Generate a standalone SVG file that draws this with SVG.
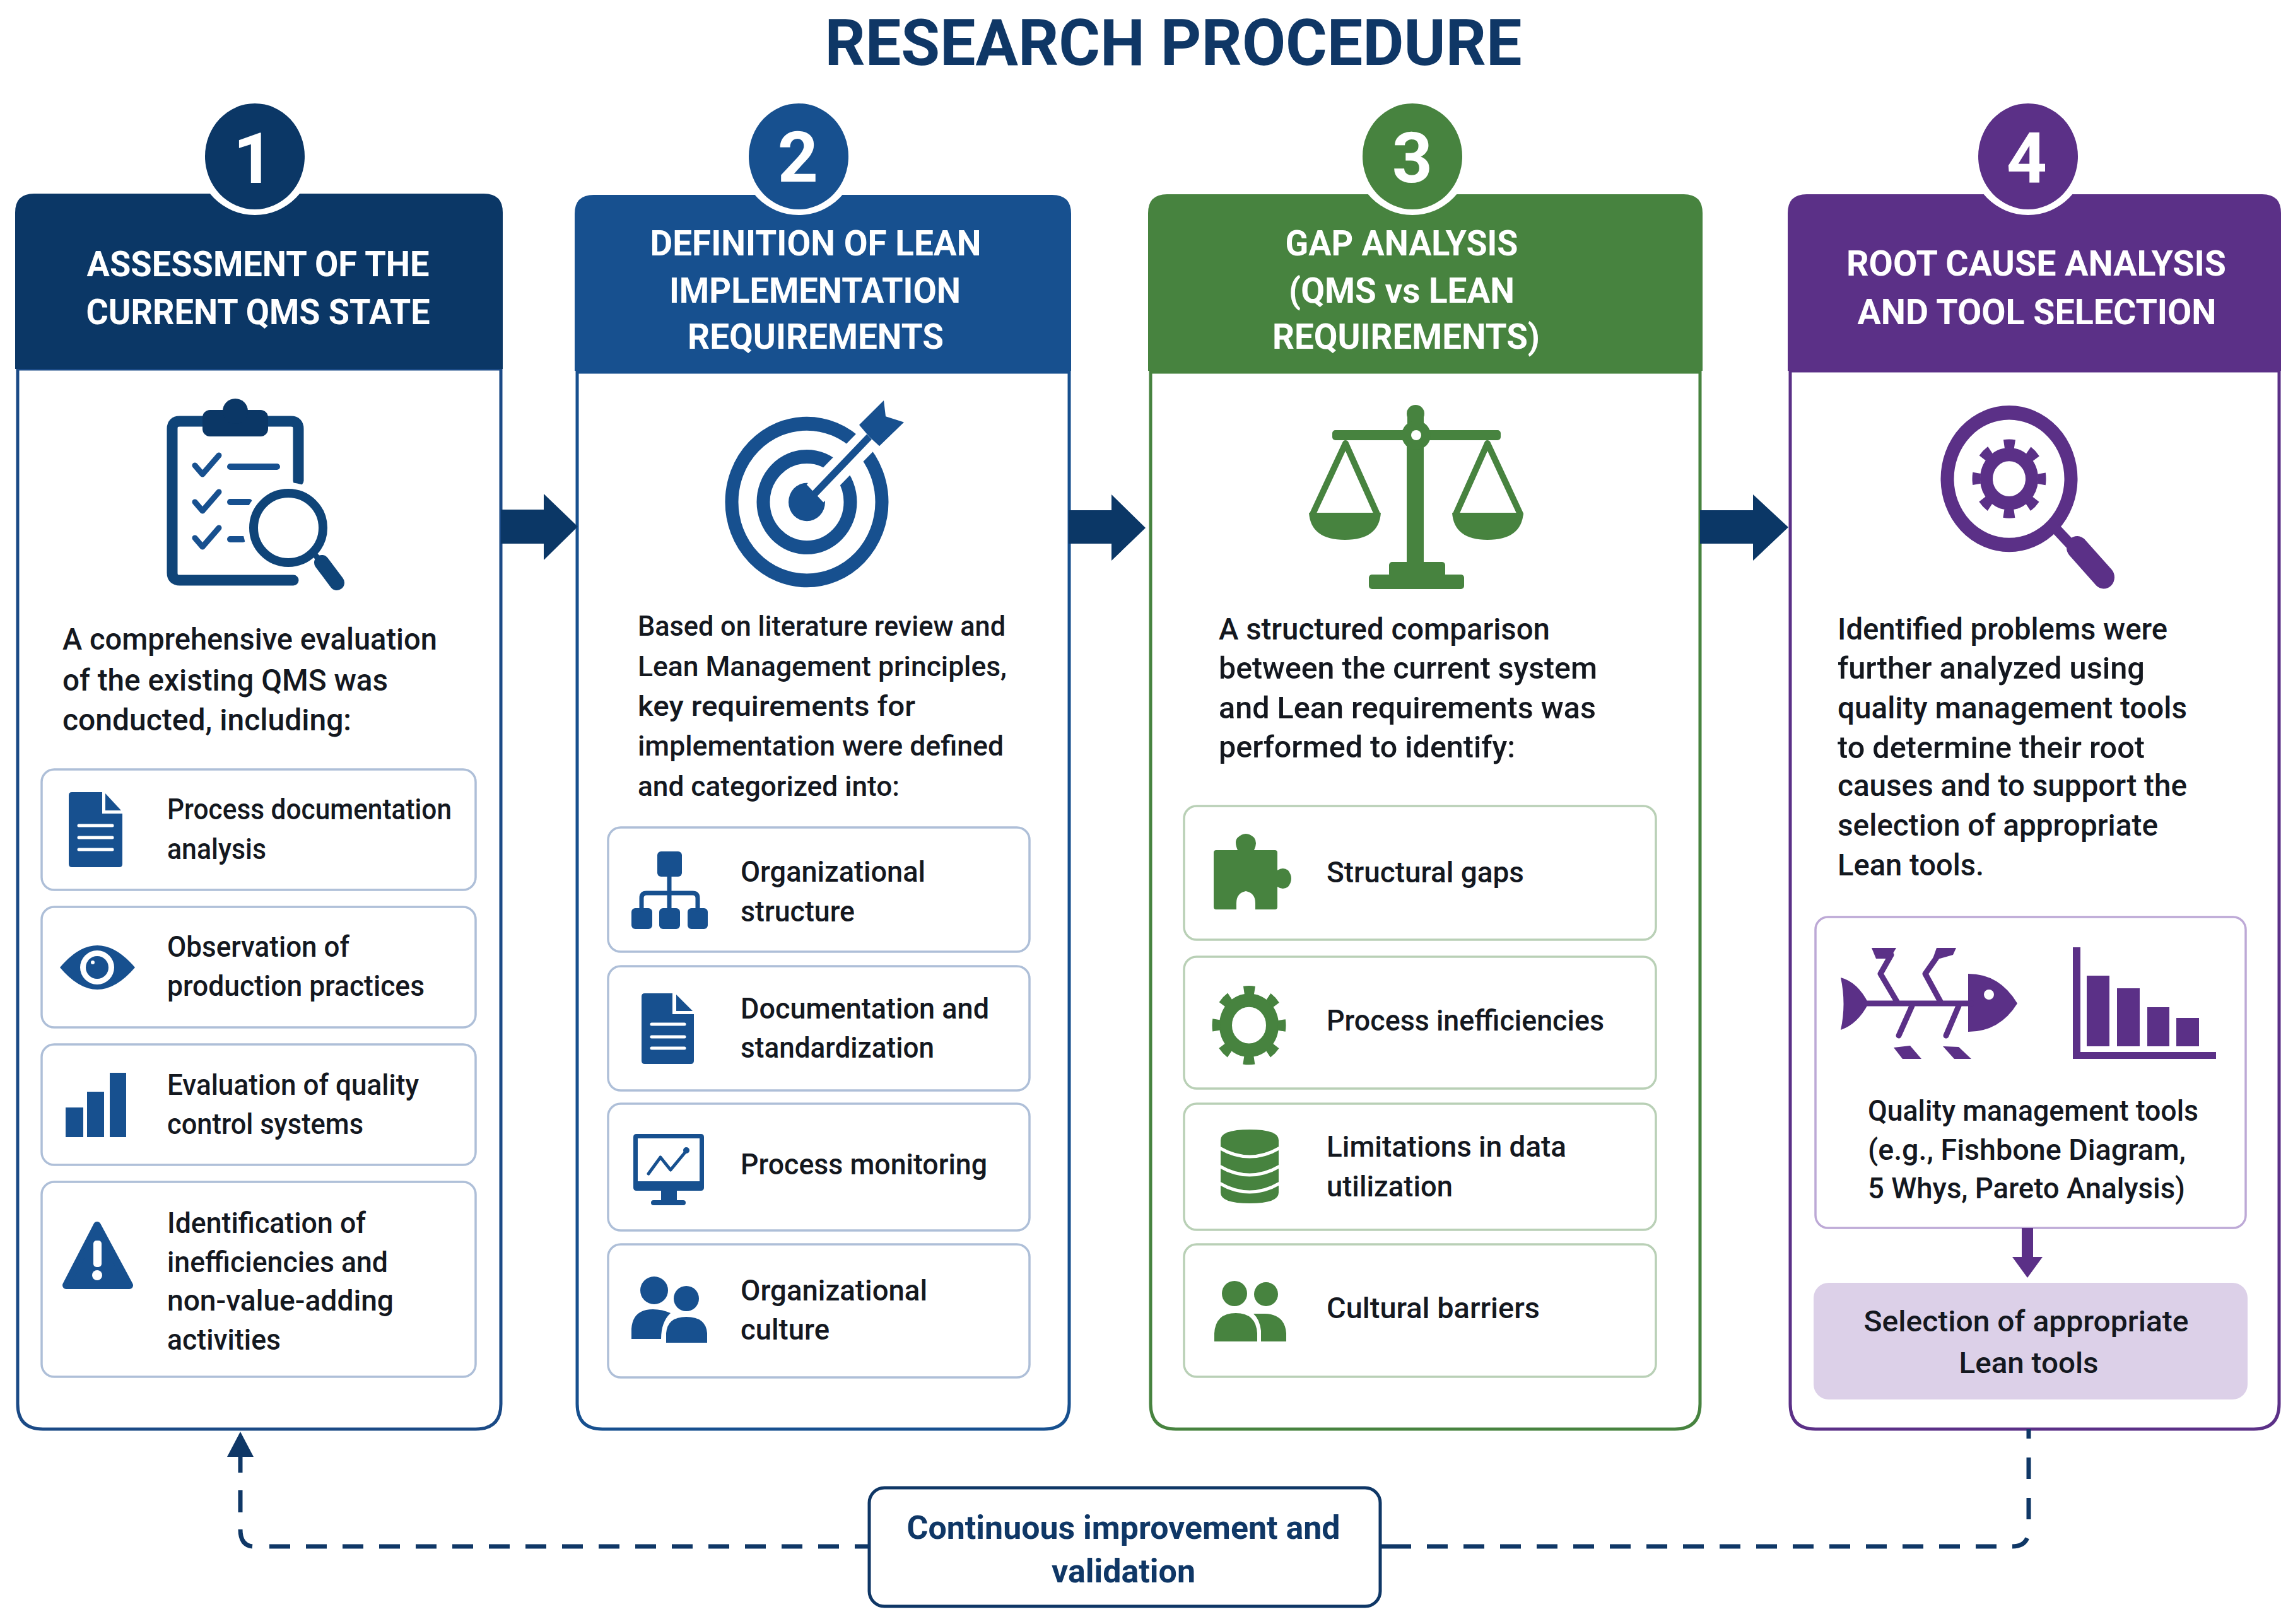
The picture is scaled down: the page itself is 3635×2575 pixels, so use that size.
<svg xmlns="http://www.w3.org/2000/svg" width="3635" height="2575" viewBox="0 0 3635 2575">
<style>
text{font-family:"Roboto","Liberation Sans",sans-serif}
.title{font-size:102px;font-weight:700;fill:#0f3766;text-anchor:middle}
.hd{font-size:55.5px;font-weight:700;fill:#fff;text-anchor:middle}
.num{font-size:112px;font-weight:700;fill:#fff;text-anchor:middle}
.tx{font-size:48px;font-weight:500;fill:#14181f}
.t2{font-size:45px;font-weight:500;fill:#14181f}
.it{font-size:45.5px;font-weight:500;fill:#14181f}
.mid{text-anchor:middle}
.fb{font-size:52px;font-weight:700;fill:#0f3766;text-anchor:middle}
.navy{fill:#0b3766}.blue{fill:#17508f}.green{fill:#47833f}.purple{fill:#5b3087}
.white{fill:#fff}
.bnavy,.bblue,.bgreen,.bpurple{fill:#fff;stroke-width:5}
.bnavy{stroke:#1b4a86}.bblue{stroke:#17508f}.bgreen{stroke:#47833f}.bpurple{stroke:#5b3087}
.sb{fill:#fff;stroke:#aebfd8;stroke-width:3.5}
.sg{fill:#fff;stroke:#b9d0b6;stroke-width:3.5}
.sp{fill:#fff;stroke:#bda9d6;stroke-width:3.5}
.lb{fill:none;stroke-linecap:round;stroke-linejoin:round}
.dash{fill:none;stroke:#0f3766;stroke-width:7;stroke-dasharray:33 25}
.dashv{fill:none;stroke:#0f3766;stroke-width:7;stroke-dasharray:34 30}
.solid{fill:none;stroke:#0f3766;stroke-width:7}
.flow{fill:#0b3766}
</style>
<defs>
<marker id="tip" markerUnits="userSpaceOnUse" markerWidth="42" markerHeight="42" refX="0" refY="21" orient="auto" viewBox="0 0 40 42"><polygon points="0,0 40,21 0,42" fill="#0f3766"/></marker>
</defs>
<rect width="3635" height="2575" fill="#fff"/>
<text id="title" class="title" x="1860" y="103" textLength="1105" lengthAdjust="spacingAndGlyphs">RESEARCH PROCEDURE</text>

<g id="step1">
<path class="bnavy" d="M28 585V2226Q28 2266 68 2266H754Q794 2266 794 2226V585Z"/>
<path class="navy" d="M24 585V337Q24 307 54 307H767Q797 307 797 337V585Z"/>
<ellipse class="white" cx="404" cy="248" rx="92" ry="93"/><rect class="white" x="300" y="150" width="210" height="157"/>
<ellipse class="navy" cx="404" cy="248" rx="79" ry="84"/>
<text class="num" x="402" y="290">1</text>
<text class="hd" x="409" y="438" textLength="543" lengthAdjust="spacingAndGlyphs">ASSESSMENT OF THE</text>
<text class="hd" x="409" y="514" textLength="545" lengthAdjust="spacingAndGlyphs">CURRENT QMS STATE</text>
<g id="icon-clipboard">
<path class="lb" stroke="#0f4478" stroke-width="17" d="M473 762V680Q473 668 461 668H285Q273 668 273 680V908Q273 920 285 920H465"/>
<rect class="navy" x="321" y="650" width="104" height="42" rx="12"/><circle class="navy" cx="373" cy="652" r="20"/>
<path class="lb" stroke="#17508f" stroke-width="9" d="M309 738L321 752L347 722M309 796L321 810L347 780M309 853L321 867L347 837"/>
<path class="lb" stroke="#17508f" stroke-width="10" stroke-linecap="butt" d="M365 740H439M365 796H395M365 855H385"/>
<circle class="white" cx="457" cy="837" r="72"/>
<circle cx="457" cy="837" r="55" fill="#fff" stroke="#0f4478" stroke-width="14"/>
<path class="lb" stroke="#0f4478" stroke-width="9" d="M497 877L510 892"/>
<path class="lb" stroke="#0f4478" stroke-width="24" d="M510 892L534 924"/>
</g>
<g transform="translate(0,2)">
<text class="tx" x="99" y="1028" textLength="594" lengthAdjust="spacingAndGlyphs">A comprehensive evaluation</text>
<text class="tx" x="99" y="1093" textLength="516" lengthAdjust="spacingAndGlyphs">of the existing QMS was</text>
<text class="tx" x="99" y="1156" textLength="458" lengthAdjust="spacingAndGlyphs">conducted, including:</text>
<rect class="sb" x="66" y="1218" width="688" height="191" rx="20"/>
<path class="blue" d="M114 1254H162V1288H194V1368Q194 1373 189 1373H114Q109 1373 109 1368V1259Q109 1254 114 1254Z"/><polygon class="blue" points="167,1256 192,1283 167,1283"/>
<path class="lb" stroke="#fff" stroke-width="5" d="M125 1307H178M125 1326H178M125 1345H178"/>
<text class="it" x="265" y="1297" textLength="451" lengthAdjust="spacingAndGlyphs">Process documentation</text>
<text class="it" x="265" y="1360" textLength="157" lengthAdjust="spacingAndGlyphs">analysis</text>
<rect class="sb" x="66" y="1436" width="688" height="191" rx="20"/>
<path class="blue" d="M95 1532Q154 1462 214 1532Q154 1602 95 1532Z"/><circle class="white" cx="154" cy="1532" r="27"/><circle class="blue" cx="154" cy="1532" r="18"/><circle class="white" cx="147" cy="1524" r="3"/>
<text class="it" x="265" y="1515" textLength="289" lengthAdjust="spacingAndGlyphs">Observation of</text>
<text class="it" x="265" y="1577" textLength="408" lengthAdjust="spacingAndGlyphs">production practices</text>
<rect class="sb" x="66" y="1654" width="688" height="191" rx="20"/>
<rect class="blue" x="104" y="1754" width="28" height="47"/><rect class="blue" x="138" y="1729" width="27" height="72"/><rect class="blue" x="174" y="1699" width="26" height="102"/>
<text class="it" x="265" y="1734" textLength="399" lengthAdjust="spacingAndGlyphs">Evaluation of quality</text>
<text class="it" x="265" y="1796" textLength="311" lengthAdjust="spacingAndGlyphs">control systems</text>
<rect class="sb" x="66" y="1872" width="688" height="309" rx="20"/>
<path class="blue" stroke="#17508f" stroke-width="12" stroke-linejoin="round" d="M154 1941L205 2036H105Z"/><rect class="white" x="148" y="1965" width="13" height="42" rx="5"/><circle class="white" cx="154" cy="2020" r="8"/>
<text class="it" x="265" y="1953" textLength="315" lengthAdjust="spacingAndGlyphs">Identification of</text>
<text class="it" x="265" y="2015" textLength="350" lengthAdjust="spacingAndGlyphs">inefficiencies and</text>
<text class="it" x="265" y="2076" textLength="359" lengthAdjust="spacingAndGlyphs">non-value-adding</text>
<text class="it" x="265" y="2138" textLength="180" lengthAdjust="spacingAndGlyphs">activities</text>
</g>
</g>

<g id="step2">
<path class="bblue" d="M915 590V2226Q915 2266 955 2266H1655Q1695 2266 1695 2226V590Z"/>
<path class="blue" d="M911 588V339Q911 309 941 309H1668Q1698 309 1698 339V588Z"/>
<ellipse class="white" cx="1266" cy="248" rx="92" ry="93"/><rect class="white" x="1160" y="150" width="212" height="159"/>
<ellipse class="blue" cx="1266" cy="248" rx="79" ry="84"/>
<text class="num" x="1265" y="288">2</text>
<text class="hd" x="1293" y="405" textLength="525" lengthAdjust="spacingAndGlyphs">DEFINITION OF LEAN</text>
<text class="hd" x="1292" y="480" textLength="462" lengthAdjust="spacingAndGlyphs">IMPLEMENTATION</text>
<text class="hd" x="1293" y="553" textLength="406" lengthAdjust="spacingAndGlyphs">REQUIREMENTS</text>
<g id="icon-target" fill="none" stroke="#17508f" stroke-width="21" transform="translate(0,-33.7) scale(1,1.045)">
<circle cx="1279" cy="794" r="119"/><circle cx="1279" cy="794" r="69"/><circle cx="1279" cy="794" r="29" fill="#17508f" stroke="none"/>
<path stroke="#fff" stroke-width="38" d="M1292 781L1395 680"/>
<path stroke-width="11" d="M1284 789L1378 695"/>
<polygon stroke="none" fill="#17508f" points="1362,677 1401,640 1404,664 1433,673 1394,709 1378,695"/>
</g>
<g transform="translate(0,2)">
<text class="t2" x="1011" y="1006" textLength="583" lengthAdjust="spacingAndGlyphs">Based on literature review and</text>
<text class="t2" x="1011" y="1070" textLength="585" lengthAdjust="spacingAndGlyphs">Lean Management principles,</text>
<text class="t2" x="1011" y="1133" textLength="440" lengthAdjust="spacingAndGlyphs">key requirements for</text>
<text class="t2" x="1011" y="1196" textLength="580" lengthAdjust="spacingAndGlyphs">implementation were defined</text>
<text class="t2" x="1011" y="1260" textLength="415" lengthAdjust="spacingAndGlyphs">and categorized into:</text>
<rect class="sb" x="964" y="1310" width="668" height="197" rx="20"/>
<rect class="blue" x="1042" y="1348" width="39" height="40" rx="6"/><rect class="blue" x="1001" y="1438" width="33" height="33" rx="6"/><rect class="blue" x="1045" y="1438" width="33" height="33" rx="6"/><rect class="blue" x="1090" y="1438" width="32" height="33" rx="6"/>
<path class="lb" stroke="#17508f" stroke-width="7" d="M1061 1388V1440M1017 1440V1422Q1017 1414 1025 1414H1098Q1106 1414 1106 1422V1440"/>
<text class="it" x="1174" y="1396" textLength="293" lengthAdjust="spacingAndGlyphs">Organizational</text>
<text class="it" x="1174" y="1459" textLength="181" lengthAdjust="spacingAndGlyphs">structure</text>
<rect class="sb" x="964" y="1530" width="668" height="197" rx="20"/>
<path class="blue" d="M1022 1573H1066V1606H1100V1680Q1100 1685 1095 1685H1022Q1017 1685 1017 1680V1578Q1017 1573 1022 1573Z"/><polygon class="blue" points="1072,1575 1098,1601 1072,1601"/>
<path class="lb" stroke="#fff" stroke-width="5" d="M1033 1622H1085M1033 1642H1085M1033 1660H1085"/>
<text class="it" x="1174" y="1613" textLength="394" lengthAdjust="spacingAndGlyphs">Documentation and</text>
<text class="it" x="1174" y="1675" textLength="307" lengthAdjust="spacingAndGlyphs">standardization</text>
<rect class="sb" x="964" y="1748" width="668" height="201" rx="20"/>
<path class="blue" d="M1009 1796H1111Q1116 1796 1116 1801V1881Q1116 1886 1111 1886H1009Q1004 1886 1004 1881V1801Q1004 1796 1009 1796ZM1011 1803V1871H1109V1803Z" fill-rule="evenodd"/>
<rect class="blue" x="1048" y="1886" width="25" height="16"/><rect class="blue" x="1032" y="1901" width="55" height="8" rx="4"/>
<path class="lb" stroke="#17508f" stroke-width="5" d="M1028 1859L1047 1833L1063 1853L1087 1824"/><circle class="blue" cx="1088" cy="1822" r="5"/>
<text class="it" x="1174" y="1860" textLength="391" lengthAdjust="spacingAndGlyphs">Process monitoring</text>
<rect class="sb" x="964" y="1971" width="668" height="211" rx="20"/>
<circle class="blue" cx="1037" cy="2044" r="22"/><circle class="blue" cx="1088" cy="2057" r="20"/>
<path class="blue" d="M1001 2121V2105Q1003 2074 1035 2074Q1050 2074 1063 2080Q1048 2094 1048 2121Z"/>
<path class="blue" d="M1056 2127V2112Q1058 2086 1088 2086Q1119 2086 1121 2112V2127Z"/>
<text class="it" x="1174" y="2060" textLength="296" lengthAdjust="spacingAndGlyphs">Organizational</text>
<text class="it" x="1174" y="2122" textLength="141" lengthAdjust="spacingAndGlyphs">culture</text>
</g>
</g>

<g id="step3">
<path class="bgreen" d="M1824 590V2226Q1824 2266 1864 2266H2655Q2695 2266 2695 2226V590Z"/>
<path class="green" d="M1820 588V338Q1820 308 1850 308H2669Q2699 308 2699 338V588Z"/>
<ellipse class="white" cx="2239" cy="248" rx="92" ry="93"/><rect class="white" x="2130" y="150" width="218" height="158"/>
<ellipse class="green" cx="2239" cy="248" rx="79" ry="84"/>
<text class="num" x="2239" y="289">3</text>
<text class="hd" x="2222" y="405" textLength="369" lengthAdjust="spacingAndGlyphs">GAP ANALYSIS</text>
<text class="hd" x="2222" y="480" textLength="358" lengthAdjust="spacingAndGlyphs">(QMS vs LEAN</text>
<text class="hd" x="2229" y="553" textLength="424" lengthAdjust="spacingAndGlyphs">REQUIREMENTS)</text>
<g id="icon-scale">
<rect class="green" x="2112" y="682" width="267" height="16" rx="5"/>
<rect class="green" x="2230" y="680" width="27" height="225"/>
<circle class="green" cx="2244" cy="656" r="14"/><rect class="green" x="2231" y="656" width="26" height="22"/>
<circle class="green" cx="2245" cy="690" r="23"/><circle class="white" cx="2245" cy="690" r="8"/>
<rect class="green" x="2202" y="891" width="89" height="24" rx="5"/><rect class="green" x="2170" y="911" width="151" height="23" rx="5"/>
<path class="lb" stroke="#47833f" stroke-width="10" d="M2081 815L2133 703L2183 815M2308 815L2358 703L2410 815"/>
<path class="green" d="M2075 813H2189Q2186 856 2132 856Q2078 856 2075 813Z"/>
<path class="green" d="M2302 813H2415Q2412 856 2358 856Q2305 856 2302 813Z"/>
</g>
<g transform="translate(0,2)">
<text class="tx" x="1932" y="1012" textLength="525" lengthAdjust="spacingAndGlyphs">A structured comparison</text>
<text class="tx" x="1932" y="1074" textLength="600" lengthAdjust="spacingAndGlyphs">between the current system</text>
<text class="tx" x="1932" y="1137" textLength="598" lengthAdjust="spacingAndGlyphs">and Lean requirements was</text>
<text class="tx" x="1932" y="1199" textLength="470" lengthAdjust="spacingAndGlyphs">performed to identify:</text>
<rect class="sg" x="1877" y="1276" width="748" height="212" rx="20"/>
<path class="green" d="M1928 1346H1962Q1956 1332 1962 1326Q1975 1314 1988 1326Q1994 1334 1988 1346H2021Q2025 1346 2025 1350V1378Q2034 1372 2042 1378Q2052 1391 2042 1404Q2034 1410 2025 1404V1436Q2025 1440 2021 1440H1990V1430Q1990 1414 1975 1411Q1960 1414 1960 1430V1440H1928Q1924 1440 1924 1436V1350Q1924 1346 1928 1346Z"/>
<text class="it" x="2103" y="1397" textLength="313" lengthAdjust="spacingAndGlyphs">Structural gaps</text>
<rect class="sg" x="1877" y="1515" width="748" height="209" rx="20"/>
<g id="gear-green" fill="none" stroke="#47833f" transform="translate(0,-114) scale(1,1.07)">
<circle cx="1980" cy="1624" r="37" stroke-width="20"/>
<circle cx="1980" cy="1624" r="52" stroke-width="13" stroke-dasharray="17 23.84" stroke-dashoffset="8.5"/>
</g>
<text class="it" x="2103" y="1632" textLength="440" lengthAdjust="spacingAndGlyphs">Process inefficiencies</text>
<rect class="sg" x="1877" y="1748" width="748" height="200" rx="20"/>
<path class="green" d="M1935 1806Q1935 1789 1981 1789Q2027 1789 2027 1806V1889Q2027 1906 1981 1906Q1935 1906 1935 1889Z"/>
<path class="lb" stroke="#fff" stroke-width="5" stroke-linecap="butt" d="M1933 1818Q1981 1846 2029 1818M1933 1847Q1981 1875 2029 1847M1933 1874Q1981 1902 2029 1874"/>
<text class="it" x="2103" y="1832" textLength="380" lengthAdjust="spacingAndGlyphs">Limitations in data</text>
<text class="it" x="2103" y="1895" textLength="200" lengthAdjust="spacingAndGlyphs">utilization</text>
<rect class="sg" x="1877" y="1971" width="748" height="210" rx="20"/>
<circle class="green" cx="1957" cy="2049" r="20"/><circle class="green" cx="2007" cy="2050" r="19"/>
<path class="green" d="M1925 2125V2112Q1927 2080 1959 2080Q1991 2080 1993 2112V2125Z"/>
<path class="green" d="M1999 2125V2108Q1997 2090 1987 2081H2005Q2037 2082 2039 2112V2125Z"/>
<text class="it" x="2103" y="2088" textLength="338" lengthAdjust="spacingAndGlyphs">Cultural barriers</text>
</g>
</g>

<g id="step4">
<path class="bpurple" d="M2838 588V2226Q2838 2266 2878 2266H3573Q3613 2266 3613 2226V588Z"/>
<path class="purple" d="M2834 588V338Q2834 308 2864 308H3586Q3616 308 3616 338V588Z"/>
<ellipse class="white" cx="3215" cy="248" rx="92" ry="93"/><rect class="white" x="3110" y="150" width="210" height="158"/>
<ellipse class="purple" cx="3215" cy="248" rx="79" ry="84"/>
<text class="num" x="3213" y="289">4</text>
<text class="hd" x="3228" y="437" textLength="602" lengthAdjust="spacingAndGlyphs">ROOT CAUSE ANALYSIS</text>
<text class="hd" x="3229" y="514" textLength="569" lengthAdjust="spacingAndGlyphs">AND TOOL SELECTION</text>
<g id="icon-rootcause" fill="none" stroke="#5b3087" transform="translate(0,-53) scale(1,1.07)">
<circle cx="3185" cy="759" r="98" stroke-width="21"/>
<circle cx="3185" cy="759" r="36" stroke-width="20"/>
<circle cx="3185" cy="759" r="52" stroke-width="13" stroke-dasharray="17 23.84" stroke-dashoffset="8.5"/>
<path stroke-width="16" d="M3258 832L3282 856"/>
<path stroke-width="34" stroke-linecap="round" d="M3293 861L3335 905"/>
</g>
<g transform="translate(0,2)">
<text class="tx" x="2913" y="1012" textLength="523" lengthAdjust="spacingAndGlyphs">Identified problems were</text>
<text class="tx" x="2913" y="1074" textLength="487" lengthAdjust="spacingAndGlyphs">further analyzed using</text>
<text class="tx" x="2913" y="1137" textLength="554" lengthAdjust="spacingAndGlyphs">quality management tools</text>
<text class="tx" x="2913" y="1200" textLength="487" lengthAdjust="spacingAndGlyphs">to determine their root</text>
<text class="tx" x="2913" y="1260" textLength="554" lengthAdjust="spacingAndGlyphs">causes and to support the</text>
<text class="tx" x="2913" y="1323" textLength="508" lengthAdjust="spacingAndGlyphs">selection of appropriate</text>
<text class="tx" x="2913" y="1386" textLength="232" lengthAdjust="spacingAndGlyphs">Lean tools.</text>
<rect class="sp" x="2878" y="1452" width="682" height="493" rx="20"/>
<g id="icon-fishbone">
<path class="purple" d="M2918 1548Q2945 1555 2962 1589Q2945 1622 2918 1631Q2927 1590 2918 1548Z"/>
<path class="purple" d="M3120 1542Q3170 1542 3198 1589Q3170 1634 3120 1634Z"/><circle class="white" cx="3153" cy="1575" r="8"/>
<path class="lb" stroke="#5b3087" stroke-width="9" d="M2955 1589H3125M3007 1586L2981 1542L2998 1512M3076 1586L3052 1542L3073 1512M3031 1593L3010 1640M3105 1593L3085 1640"/>
<polygon class="purple" points="2967,1501 3006,1501 2996,1518 2974,1518"/>
<polygon class="purple" points="3070,1501 3101,1501 3096,1512 3075,1518 3064,1518"/>
<polygon class="purple" points="3002,1659 3028,1656 3046,1677 3016,1677"/>
<polygon class="purple" points="3080,1657 3105,1658 3125,1677 3098,1677"/>
</g>
<g id="icon-pareto">
<path class="purple" d="M3286 1500H3298V1666H3513V1677H3286Z"/>
<rect class="purple" x="3308" y="1545" width="36" height="112"/><rect class="purple" x="3356" y="1565" width="36" height="92"/><rect class="purple" x="3404" y="1595" width="35" height="62"/><rect class="purple" x="3450" y="1612" width="36" height="45"/>
</g>
<text class="it" x="2961" y="1775" textLength="524" lengthAdjust="spacingAndGlyphs">Quality management tools</text>
<text class="it" x="2961" y="1837" textLength="504" lengthAdjust="spacingAndGlyphs">(e.g., Fishbone Diagram,</text>
<text class="it" x="2961" y="1898" textLength="503" lengthAdjust="spacingAndGlyphs">5 Whys, Pareto Analysis)</text>
<rect x="2875" y="2032" width="688" height="185" rx="24" fill="#dcd0e8"/>
<text class="it mid" x="3212" y="2109" textLength="515" lengthAdjust="spacingAndGlyphs">Selection of appropriate</text>
<text class="it mid" x="3216" y="2175" textLength="221" lengthAdjust="spacingAndGlyphs">Lean tools</text>
</g>
</g>

<g id="connectors">
<polygon class="flow" points="794,808 862,808 862,783 916,835 862,888 862,862 794,862"/>
<polygon class="flow" points="1694,809 1762,809 1762,784 1816,837 1762,889 1762,862 1694,862"/>
<polygon class="flow" points="2695,809 2779,809 2779,784 2835,836 2779,889 2779,862 2695,862"/>
<path class="dash" d="M1388 2452H427"/>
<path class="solid" marker-end="url(#tip)" d="M400 2452Q381 2450 381 2425M381 2398V2363M381 2335V2310"/>
<path class="dashv" stroke-dashoffset="19" d="M3216 2266V2425Q3216 2452 3190 2452"/>
<path class="dash" d="M3165 2452H2212"/>
<path class="solid" d="M2212 2452H2188"/>
<polygon fill="#5b3087" points="3205,1947 3223,1947 3223,1993 3238,1993 3214,2026 3190,1993 3205,1993"/>
</g>

<g id="feedback">
<rect x="1378" y="2359" width="810" height="188" rx="24" fill="#fff" stroke="#0f3766" stroke-width="5"/>
<text class="fb" x="1781" y="2440" textLength="687" lengthAdjust="spacingAndGlyphs">Continuous improvement and</text>
<text class="fb" x="1781" y="2509" textLength="228" lengthAdjust="spacingAndGlyphs">validation</text>
</g>
</svg>
